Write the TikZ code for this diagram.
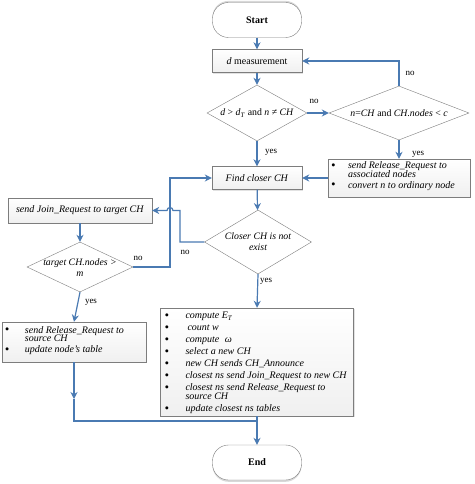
\documentclass[tikz,border=0pt]{standalone}
\usepackage{fontspec}
\setmainfont{Liberation Serif}
\usetikzlibrary{shapes.geometric,arrows.meta,shadows}
\definecolor{conn}{RGB}{74,122,178}
\definecolor{edge}{RGB}{125,125,125}
\newcommand\bigbul{\raisebox{-0.6pt}{\fontsize{12.5}{11}\selectfont\textbullet}}
\begin{document}
\begin{tikzpicture}[x=1pt,y=-1pt,
  term/.style={draw=edge, rounded corners=16pt, fill=white, minimum width=89pt, minimum height=35pt,
    font=\fontsize{10}{12}\selectfont\bfseries, inner sep=0pt},
  box/.style={draw=edge, top color=white, bottom color=gray!12, inner sep=0pt,
    font=\fontsize{10}{11}\selectfont,
    drop shadow={shadow xshift=1.2pt, shadow yshift=-1.2pt, fill=gray!45}},
  dia/.style={diamond, draw=edge, fill=white, inner sep=0pt},
  arr/.style={draw=conn, line width=1.2pt, -{Stealth[length=7pt,width=7pt]}},
  ln/.style={draw=conn, line width=1.2pt},
  lab/.style={font=\fontsize{9}{10}\selectfont, inner sep=0pt},
  dtxt/.style={font=\fontsize{9.8}{11}\selectfont, inner sep=0pt, align=center},
  ltxt/.style={font=\fontsize{10}{11}\selectfont\itshape, inner sep=0pt, anchor=north west},
]
\useasboundingbox (0,0) rectangle (474,484);

% nodes
\node[term, drop shadow={shadow xshift=0pt, shadow yshift=1.6pt, fill=gray!60}] (start) at (257,20) {Start};
\node[box, minimum width=90pt, minimum height=23pt] (dm) at (257,61) {\textit{d} measurement};
\node[dia, minimum width=100pt, minimum height=56pt] (d1) at (257,113) {};
\node[dtxt] (d1t) at (d1) {\textit{d} > \textit{d}\textsubscript{\textit{T}} and \textit{n} ≠ \textit{CH}};
\node[dia, minimum width=140pt, minimum height=54pt] (d2) at (399,113) {};
\node[dtxt] (d2t) at (d2) {\textit{n}=\textit{CH} and \textit{CH.nodes} < \textit{c}};
\node[box, minimum width=90pt, minimum height=23pt] (find) at (257,178) {\textit{Find closer CH}};
\node[box, minimum width=142pt, minimum height=38pt] (rel1) at (399,178) {};
\node[ltxt, xshift=3pt, yshift=-2pt] (rel1t) at (rel1.north west) {%
  \begin{tabular}{@{}p{17pt}@{}l@{}}
  \bigbul & send Release\_Request to\\[-2.5pt]
   & associated nodes\\
  \bigbul & convert \textit{n} to ordinary node
  \end{tabular}};
\node[dia, minimum width=107pt, minimum height=64pt] (cl) at (258,242) {};
\node[dtxt, font=\fontsize{9.8}{11}\selectfont\itshape] (clt) at (cl) {Closer CH is not\\exist};
\node[box, minimum width=144pt, minimum height=25pt] (join) at (80,210.5) {\textit{send Join\_Request to target CH}};
\node[dia, minimum width=106pt, minimum height=50pt] (tg) at (80,267) {};
\node[dtxt, font=\fontsize{9.8}{11}\selectfont\itshape] (tgt) at (80,268) {target CH.nodes >\\m};
\node[box, minimum width=144pt, minimum height=40pt] (rel2) at (74,342) {};
\node[ltxt, xshift=3pt, yshift=-3.5pt] (rel2t) at (rel2.north west) {%
  \begin{tabular}{@{}p{20pt}@{}l@{}}
  \bigbul & send Release\_Request to\\[-2.5pt]
   & source CH\\
  \bigbul & update node's table
  \end{tabular}};
\node[box, minimum width=193pt, minimum height=108pt] (big) at (257,362) {};
\node[ltxt, font=\fontsize{10}{12}\selectfont\itshape, xshift=4pt, yshift=-2.5pt] (bigt) at (big.north west) {%
  \begin{tabular}{@{}p{21pt}@{}l@{}}
  \bigbul & compute \textit{E}\textsubscript{\textit{T}}\\
  \bigbul & \hspace{2pt}count \textit{w}\\
  \bigbul & compute\hspace{3pt} \textit{ω}\\
  \bigbul & select a new CH\\
  \bigbul & new CH sends CH\_Announce\\
  \bigbul & closest ns send Join\_Request to new CH\\
  \bigbul & closest ns send Release\_Request to\\[-3.5pt]
   & source CH\\
  \bigbul & update closest ns tables
  \end{tabular}};
\node[term, drop shadow={shadow xshift=0pt, shadow yshift=-1.8pt, fill=gray!60}] (end) at (257,462.5) {End};

% connectors
\draw[arr] (start) -- (dm);
\draw[arr] (dm) -- (d1);
\draw[arr] (d1.east) -- (d2.west);
\draw[arr] (d2.north) |- (dm.east);
\draw[arr] (d1.south) -- (find.north);
\draw[arr] (d2.south) -- (rel1.north);
\draw[arr] (rel1.west) -- (find.east);
\draw[arr] (find) -- (cl);
\draw[arr] (cl.south) -- (big.north);
\draw[arr] (join) -- (tg);
\draw[arr] (tg.south) -- (rel2.north);
\draw[arr] (cl.west) -- (180,242) -- (180,210.5) -- (173,210.5)
   arc[start angle=0, end angle=-180, radius=3] -- (join.east);
\draw[arr] (tg.east) -- (170,267) -- (170,178) -- (find.west);
\coordinate (mid) at (74,399);
\coordinate (corner) at (74,421);
\coordinate (join2) at (257,421);
\draw[arr] (rel2.south) -- (mid);
\draw[ln] (mid) -- (corner) -- (join2);
\draw[arr] (big.south) -- (end.north);

% labels
\node[lab] (n1) at (314,101) {no};
\node[lab] (n2) at (410,73) {no};
\node[lab] (y1) at (271,152) {yes};
\node[lab] (y2) at (418,154) {yes};
\node[lab] (n3) at (185,252) {no};
\node[lab] (n4) at (138,258) {no};
\node[lab] (y3) at (266,281) {yes};
\node[lab] (y4) at (91,302) {yes};
\end{tikzpicture}
\end{document}
